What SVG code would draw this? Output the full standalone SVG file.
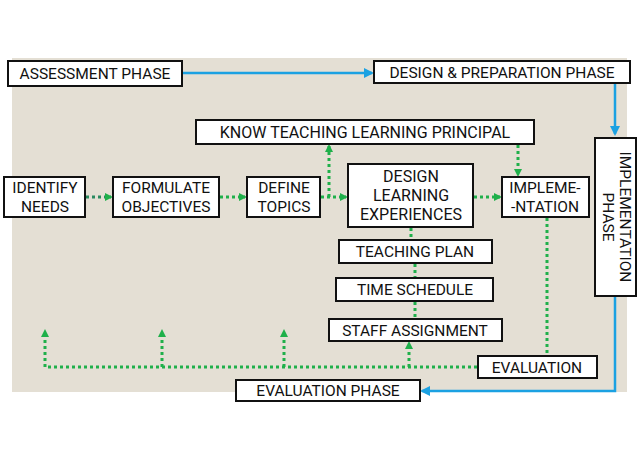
<svg xmlns="http://www.w3.org/2000/svg" width="638" height="451" viewBox="0 0 638 451">
<defs>
<style>
.b{fill:#fff;stroke:#111;stroke-width:2}
text{font-family:Roboto,"Liberation Sans",sans-serif;font-size:15.5px;fill:#111;text-anchor:middle}
.g{stroke:#1fb04a;stroke-width:3;stroke-dasharray:3 3;fill:none}
.bl{stroke:#1ba1e2;stroke-width:2.5;fill:none}
</style>
<marker id="ga" markerWidth="8" markerHeight="8" refX="6" refY="4" orient="auto" markerUnits="userSpaceOnUse"><path d="M0,0L8,4L0,8z" fill="#1fb04a"/></marker>
<marker id="ba" markerWidth="10" markerHeight="10" refX="8" refY="5" orient="auto" markerUnits="userSpaceOnUse"><path d="M0,0L10,5L0,10z" fill="#1ba1e2"/></marker>
</defs>
<rect width="638" height="451" fill="#fff"/>
<rect x="12" y="58" width="615" height="334" fill="#e4dfd4"/>
<g id="connectors">
<path class="bl" d="M182,73H372" marker-end="url(#ba)"/>
<path class="bl" d="M615,83V134" marker-end="url(#ba)"/>
<path class="bl" d="M615,296V391H422" marker-end="url(#ba)"/>
<path class="g" style="stroke:#2a8a60" d="M86,197H111" marker-end="url(#ga)"/>
<path class="g" d="M220,197H245" marker-end="url(#ga)"/>
<path class="g" d="M321,197H346" marker-end="url(#ga)"/>
<path class="g" d="M329,197V146" marker-end="url(#ga)"/>
<path class="g" d="M474,197H500" marker-end="url(#ga)"/>
<path class="g" d="M518,145V175" marker-end="url(#ga)"/>
<path class="g" d="M411,228V240M415,264V278M415,302V319"/>
<path class="g" d="M547,218V356"/>
<path class="g" d="M477,367H45V331" marker-end="url(#ga)"/>
<path class="g" d="M162,367V331" marker-end="url(#ga)"/>
<path class="g" d="M284,367V331" marker-end="url(#ga)"/>
<path class="g" d="M409,367V343" marker-end="url(#ga)"/>
</g>
<g id="assessment"><rect class="b" x="8" y="61" width="174" height="25"/><text x="95" y="79">ASSESSMENT PHASE</text></g>
<g id="design-prep"><rect class="b" x="374" y="61" width="256" height="22"/><text x="502" y="78">DESIGN &amp; PREPARATION PHASE</text></g>
<g id="know"><rect class="b" x="196" y="120" width="338" height="24"/><text x="365" y="138" style="font-size:16px">KNOW TEACHING LEARNING PRINCIPAL</text></g>
<g id="identify"><rect class="b" x="4" y="177" width="81" height="40"/><text x="45" y="193">IDENTIFY</text><text x="45" y="212">NEEDS</text></g>
<g id="formulate"><rect class="b" x="113" y="177" width="106" height="40"/><text x="166" y="193">FORMULATE</text><text x="166" y="212">OBJECTIVES</text></g>
<g id="define"><rect class="b" x="247" y="177" width="73" height="40"/><text x="284" y="193">DEFINE</text><text x="284" y="212">TOPICS</text></g>
<g id="design-learning"><rect class="b" x="348" y="164" width="125" height="63"/><text x="411" y="182" style="font-size:16px">DESIGN</text><text x="411" y="201" style="font-size:16px">LEARNING</text><text x="411" y="220" style="font-size:16px">EXPERIENCES</text></g>
<g id="implementation"><rect class="b" x="502" y="177" width="87" height="40"/><text x="545" y="193">IMPLEME-</text><text x="545" y="212">-NTATION</text></g>
<g id="impl-phase"><rect class="b" x="595" y="138" width="41" height="158"/><text transform="translate(620,217) rotate(90)">IMPLEMENTATION</text><text transform="translate(603,217) rotate(90)">PHASE</text></g>
<g id="teaching-plan"><rect class="b" x="339" y="240" width="153" height="23"/><text x="415" y="257">TEACHING PLAN</text></g>
<g id="time-schedule"><rect class="b" x="336" y="278" width="157" height="23"/><text x="415" y="295">TIME SCHEDULE</text></g>
<g id="staff"><rect class="b" x="329" y="319" width="173" height="22"/><text x="415" y="336">STAFF ASSIGNMENT</text></g>
<g id="evaluation"><rect class="b" x="478" y="356" width="119" height="22"/><text x="537" y="373">EVALUATION</text></g>
<g id="eval-phase"><rect class="b" x="236" y="380" width="184" height="21"/><text x="328" y="396">EVALUATION PHASE</text></g>
</svg>
